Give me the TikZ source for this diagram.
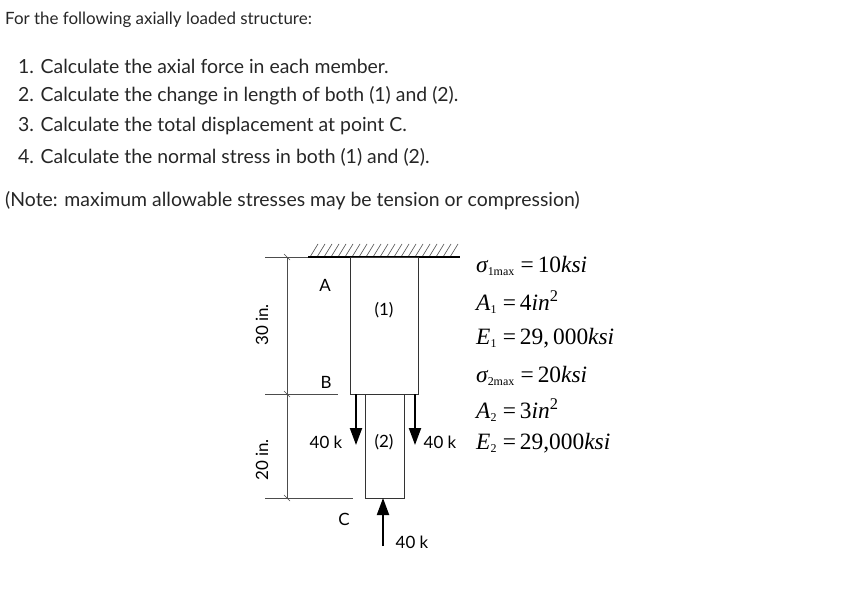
\documentclass[tikz,border=0pt]{standalone}
\usepackage{fontspec}
\setmainfont{Lato}
\newfontfamily\eqf{Liberation Serif}
\usetikzlibrary{arrows.meta,calc}
\newcommand\sbs[1]{\textsubscript{\upshape\fontsize{12}{12}\selectfont #1}}
\begin{document}
\begin{tikzpicture}[x=1bp,y=-1bp,
  txt/.style={anchor=west,inner sep=0,font=\fontsize{19.5}{21}\selectfont,text=black!85},
  lbl/.style={inner sep=0,font=\fontsize{17}{19}\selectfont},
  eq/.style={anchor=west,inner sep=0,font=\eqf\fontsize{23.5}{25}\selectfont},
  thin/.style={line width=0.6pt,black!70},
  mem/.style={draw,line width=0.9pt,black!80},
  load/.style={line width=2pt,-{Triangle[length=17bp,width=12bp]}}]
\useasboundingbox (0,0) rectangle (851,612);
\node[txt,font=\fontsize{17}{19}\selectfont] (t0) at (5,20) {For the following axially loaded structure:};
\node[txt] (t1) at (18,66) {1. Calculate the axial force in each member.};
\node[txt] (t2) at (18,96) {2. Calculate the change in length of both (1) and (2).};
\node[txt] (t3) at (18,126) {3. Calculate the total displacement at point C.};
\node[txt] (t4) at (18,157) {4. Calculate the normal stress in both (1) and (2).};
\node[txt] (t5) at (5,201) {(Note: maximum allowable stresses may be tension or compression)};
% support
\foreach \i in {0,...,20} \draw[thin] (310+7*\i,257) -- (318+7*\i,244);
\draw[line width=1.8pt] (308,257) -- (460,257);
\draw[thin] (265,257) -- (308,257);
% members
\node[mem,minimum width=68bp,minimum height=137bp,anchor=north west,inner sep=0] (m1) at (350,257) {};
\node[mem,minimum width=39bp,minimum height=104bp,anchor=north west,inner sep=0] (m2) at (365,394) {};
\node[lbl] at (384,310) {(1)};
\node[lbl] at (384,442) {(2)};
% dims
\coordinate (d0) at (287,257); \coordinate (d1) at (287,394); \coordinate (d2) at (287,498);
\draw[thin] (d0) -- (d2);
\draw[thin] (265,394) -- (338,394);
\draw[thin] (265,498) -- (353,498);
\foreach \c in {d0,d1,d2} \draw[thin] ($(\c)+(-3,-3)$) -- ($(\c)+(3,3)$);
\node[lbl,rotate=90] at (262,325) {30 in.};
\node[lbl,rotate=90] at (262,460) {20 in.};
\node[lbl] at (325,285) {A};
\node[lbl] at (326,382) {B};
\node[lbl] at (344,519) {C};
% loads
\coordinate (l1) at (356,445); \coordinate (l2) at (415,445); \coordinate (l3) at (383,546);
\draw[load] (356,394) -- (l1);
\draw[load] (415,394) -- (l2);
\draw[load] (l3) -- (383,498);
\node[lbl] at (326,442) {40 k};
\node[lbl] at (440,442) {40 k};
\node[lbl] at (412,542) {40 k};
% eqs
\node[eq] at (476,266) {\itshape σ\sbs{1max}\upshape\ =\,10\itshape ksi};
\node[eq] at (476,302) {\itshape A\sbs{1}\upshape\ =\,4\itshape in\textsuperscript{\upshape 2}};
\node[eq] at (476,338) {\itshape E\sbs{1}\upshape\ =\,29,\,000\itshape ksi};
\node[eq] at (476,376) {\itshape σ\sbs{2max}\upshape\ =\,20\itshape ksi};
\node[eq] at (476,410) {\itshape A\sbs{2}\upshape\ =\,3\itshape in\textsuperscript{\upshape 2}};
\node[eq] at (476,443) {\itshape E\sbs{2}\upshape\ =\,29,000\itshape ksi};
\end{tikzpicture}
\end{document}
